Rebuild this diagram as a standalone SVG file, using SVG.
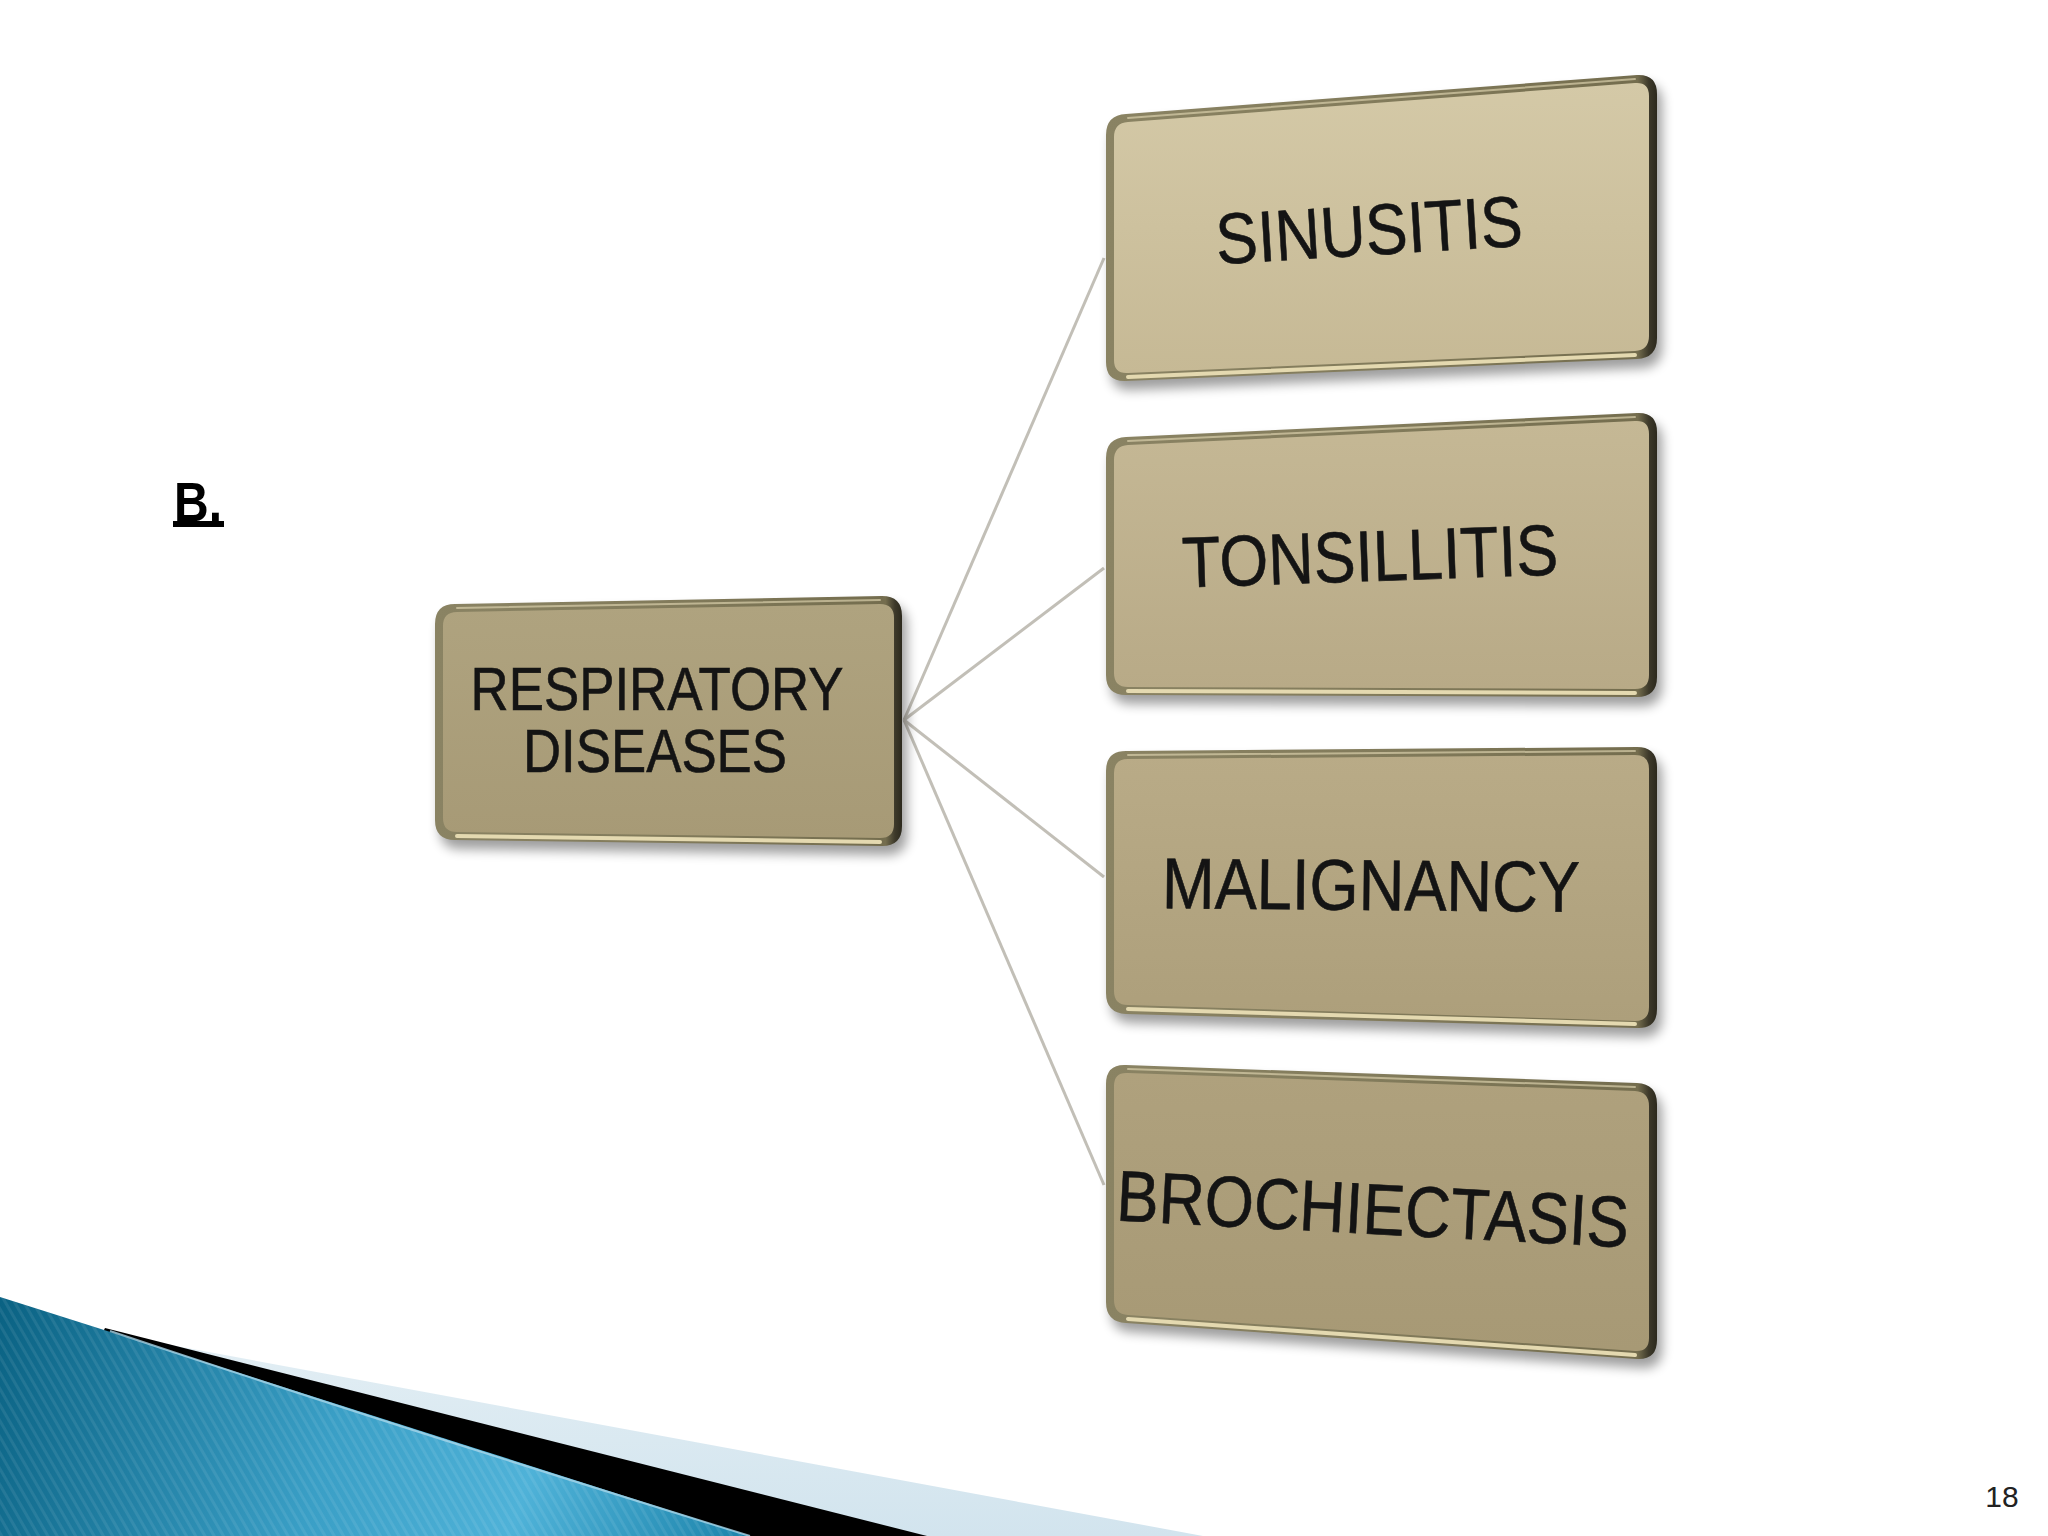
<svg xmlns="http://www.w3.org/2000/svg" width="2048" height="1536" viewBox="0 0 2048 1536">
  <defs>
    <style>
      .rim { fill: url(#rimGrad); }
      .shadow { fill: #000; opacity: 0.38; filter: url(#blur); }
      .hlb { fill: none; stroke: #e4d9b0; stroke-width: 4; stroke-linecap: round; }
      .hlt { fill: none; stroke: #d9cfab; stroke-width: 2; stroke-linecap: round; opacity: 0.7; }
      .lbl { font-family: "Liberation Sans", Arial, sans-serif; fill: #141414; stroke: #141414; stroke-width: 0.6; text-anchor: middle; }
      .big { font-size: 72px; }
      .mid { font-size: 61px; }
      .conn { fill: none; stroke: #c2bfb7; stroke-width: 3; }
    </style>
    <filter id="blur" x="-10%" y="-10%" width="120%" height="130%">
      <feGaussianBlur stdDeviation="6"/>
    </filter>
    <linearGradient id="rimGrad" x1="0" y1="0" x2="1" y2="0">
      <stop offset="0" stop-color="#8a8363"/>
      <stop offset="0.5" stop-color="#827b5b"/>
      <stop offset="0.965" stop-color="#746d4e"/>
      <stop offset="0.985" stop-color="#3d392a"/>
      <stop offset="1" stop-color="#2c291d"/>
    </linearGradient>
    <linearGradient id="fS1" x1="0" y1="0" x2="0" y2="1">
      <stop offset="0" stop-color="#d4c9a7"/>
      <stop offset="1" stop-color="#c6b995"/>
    </linearGradient>
    <linearGradient id="fS2" x1="0" y1="0" x2="0" y2="1">
      <stop offset="0" stop-color="#c5b895"/>
      <stop offset="1" stop-color="#b8aa87"/>
    </linearGradient>
    <linearGradient id="fS3" x1="0" y1="0" x2="0" y2="1">
      <stop offset="0" stop-color="#b9ab87"/>
      <stop offset="1" stop-color="#ad9f7b"/>
    </linearGradient>
    <linearGradient id="fS4" x1="0" y1="0" x2="0" y2="1">
      <stop offset="0" stop-color="#afa17d"/>
      <stop offset="1" stop-color="#a79975"/>
    </linearGradient>
    <linearGradient id="fC" x1="0" y1="0" x2="0" y2="1">
      <stop offset="0" stop-color="#afa37f"/>
      <stop offset="1" stop-color="#a79a76"/>
    </linearGradient>
    <linearGradient id="blueGrad" x1="0" y1="1300" x2="760" y2="1536" gradientUnits="userSpaceOnUse">
      <stop offset="0" stop-color="#0a6283"/>
      <stop offset="0.45" stop-color="#3a9fc6"/>
      <stop offset="0.7" stop-color="#4fb2d8"/>
      <stop offset="1" stop-color="#1a82a9"/>
    </linearGradient>
    <linearGradient id="lightGrad" x1="0" y1="0" x2="0" y2="1">
      <stop offset="0" stop-color="#e2eef4"/>
      <stop offset="1" stop-color="#d2e4ee"/>
    </linearGradient>
    <pattern id="stripes" width="8" height="8" patternUnits="userSpaceOnUse" patternTransform="rotate(-30)">
      <rect x="0" y="0" width="3" height="8" fill="#ffffff" opacity="0.08"/>
    </pattern>
  </defs>

  <rect x="0" y="0" width="2048" height="1536" fill="#ffffff"/>

  <!-- bottom-left decoration -->
  <g id="decoration">
    <path d="M160,1343 L1203,1536 L160,1536 Z" fill="url(#lightGrad)"/>
    <path d="M105,1328 L927,1536 L0,1536 Z" fill="#000000"/>
    <path d="M0,1297 Q300,1392 750,1536 L0,1536 Z" fill="url(#blueGrad)"/>
    <path d="M0,1297 Q300,1392 750,1536 L0,1536 Z" fill="url(#stripes)"/>
    <path d="M110,1331 Q400,1428 750,1536" fill="none" stroke="#a9d6e8" stroke-width="2" opacity="0.8"/>
  </g>

  <!-- slide label -->
  <g id="label-b">
    <text x="174" y="521" font-family="'Liberation Sans', Arial, sans-serif" font-weight="bold" font-size="55" textLength="48" lengthAdjust="spacingAndGlyphs" fill="#000">B.</text>
    <rect x="173" y="521" width="51" height="6" fill="#000"/>
  </g>

  <!-- connectors -->
  <g id="connectors">
    <line class="conn" x1="904" y1="720" x2="1104" y2="258"/>
    <line class="conn" x1="904" y1="720" x2="1104" y2="568"/>
    <line class="conn" x1="904" y1="720" x2="1104" y2="877"/>
    <line class="conn" x1="904" y1="720" x2="1104" y2="1185"/>
  </g>

  <!-- center node -->
  <g id="node-respiratory">
    <path class="shadow" transform="translate(5,9)" d="M435,624 Q435,604 455,604 L882,596 Q902,596 902,616 L902,826 Q902,846 882,846 L455,840 Q435,840 435,820 Z"/>
    <path class="rim" d="M435,624 Q435,604 455,604 L882,596 Q902,596 902,616 L902,826 Q902,846 882,846 L455,840 Q435,840 435,820 Z"/>
    <path fill="url(#fC)" d="M443,626 Q443,612 457,612 L880,604 Q894,604 894,618 L894,824 Q894,838 880,838 L457,832 Q443,832 443,818 Z"/>
    <path class="hlt" d="M457,608 L880,600"/>
    <path class="hlb" d="M457,836 L880,842"/>
    <text class="lbl mid" x="657" y="710" textLength="373" lengthAdjust="spacingAndGlyphs">RESPIRATORY</text>
    <text class="lbl mid" x="655" y="772" textLength="264" lengthAdjust="spacingAndGlyphs">DISEASES</text>
  </g>

  <!-- SINUSITIS -->
  <g id="node-sinusitis">
    <path class="shadow" transform="translate(5,9)" d="M1106,135 Q1106,115 1126,114 L1637,75 Q1657,74 1657,94 L1657,338 Q1657,358 1637,359 L1126,381 Q1106,382 1106,362 Z"/>
    <path class="rim" d="M1106,135 Q1106,115 1126,114 L1637,75 Q1657,74 1657,94 L1657,338 Q1657,358 1637,359 L1126,381 Q1106,382 1106,362 Z"/>
    <path fill="url(#fS1)" d="M1114,137 Q1114,123 1128,122 L1635,83 Q1649,82 1649,96 L1649,336 Q1649,350 1635,351 L1128,373 Q1114,374 1114,360 Z"/>
    <path class="hlt" d="M1128,118 L1635,79"/>
    <path class="hlb" d="M1128,377 L1635,355"/>
    <text class="lbl big" x="1369" y="255" textLength="307" lengthAdjust="spacingAndGlyphs" transform="rotate(-3.5 1369 229)">SINUSITIS</text>
  </g>

  <!-- TONSILLITIS -->
  <g id="node-tonsillitis">
    <path class="shadow" transform="translate(5,9)" d="M1106,458 Q1106,438 1126,437 L1637,413 Q1657,412 1657,432 L1657,677 Q1657,697 1637,697 L1126,695 Q1106,695 1106,675 Z"/>
    <path class="rim" d="M1106,458 Q1106,438 1126,437 L1637,413 Q1657,412 1657,432 L1657,677 Q1657,697 1637,697 L1126,695 Q1106,695 1106,675 Z"/>
    <path fill="url(#fS2)" d="M1114,460 Q1114,446 1128,445 L1635,421 Q1649,420 1649,434 L1649,675 Q1649,689 1635,689 L1128,687 Q1114,687 1114,673 Z"/>
    <path class="hlt" d="M1128,441 L1635,417"/>
    <path class="hlb" d="M1128,691 L1635,693"/>
    <text class="lbl big" x="1370" y="581" textLength="376" lengthAdjust="spacingAndGlyphs" transform="rotate(-2 1370 555)">TONSILLITIS</text>
  </g>

  <!-- MALIGNANCY -->
  <g id="node-malignancy">
    <path class="shadow" transform="translate(5,9)" d="M1106,771 Q1106,751 1126,751 L1637,747 Q1657,747 1657,767 L1657,1009 Q1657,1029 1637,1028 L1126,1014 Q1106,1013 1106,993 Z"/>
    <path class="rim" d="M1106,771 Q1106,751 1126,751 L1637,747 Q1657,747 1657,767 L1657,1009 Q1657,1029 1637,1028 L1126,1014 Q1106,1013 1106,993 Z"/>
    <path fill="url(#fS3)" d="M1114,773 Q1114,759 1128,759 L1635,755 Q1649,755 1649,769 L1649,1007 Q1649,1021 1635,1021 L1128,1005 Q1114,1005 1114,991 Z"/>
    <path class="hlt" d="M1128,755 L1635,751"/>
    <path class="hlb" d="M1128,1009 L1635,1024"/>
    <text class="lbl big" x="1371" y="910" textLength="418" lengthAdjust="spacingAndGlyphs" transform="rotate(0.5 1371 884)">MALIGNANCY</text>
  </g>

  <!-- BROCHIECTASIS -->
  <g id="node-brochiectasis">
    <path class="shadow" transform="translate(5,9)" d="M1106,1084 Q1106,1064 1126,1065 L1637,1083 Q1657,1084 1657,1104 L1657,1340 Q1657,1360 1637,1359 L1126,1323 Q1106,1322 1106,1302 Z"/>
    <path class="rim" d="M1106,1084 Q1106,1064 1126,1065 L1637,1083 Q1657,1084 1657,1104 L1657,1340 Q1657,1360 1637,1359 L1126,1323 Q1106,1322 1106,1302 Z"/>
    <path fill="url(#fS4)" d="M1114,1086 Q1114,1072 1128,1073 L1635,1091 Q1649,1092 1649,1106 L1649,1338 Q1649,1352 1635,1351 L1128,1315 Q1114,1314 1114,1300 Z"/>
    <path class="hlt" d="M1128,1069 L1635,1087"/>
    <path class="hlb" d="M1128,1319 L1635,1355"/>
    <text class="lbl big" x="1373" y="1234" textLength="513" lengthAdjust="spacingAndGlyphs" transform="rotate(3 1373 1208)">BROCHIECTASIS</text>
  </g>

  <!-- page number -->
  <text id="page-number" x="2002" y="1507" font-family="'Liberation Sans', Arial, sans-serif" font-size="30" text-anchor="middle" fill="#222">18</text>
</svg>
